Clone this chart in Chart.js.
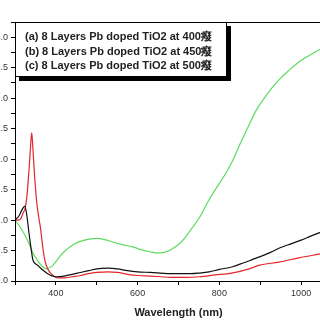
<!DOCTYPE html>
<html>
<head>
<meta charset="utf-8">
<script src="https://cdn.jsdelivr.net/npm/chart.js@4/dist/chart.umd.min.js"></script>
<style>
    html, body { margin: 0; padding: 0; background: #fff; }
    #wrap { position: relative; width: 320px; height: 320px; overflow: hidden; }
    #chart { position: absolute; left: -40px; top: 0; }
    #legend {
        position: absolute; left: 15px; top: 22px; width: 212px; height: 55px;
        border: 1px solid #000; background: #fff; box-shadow: 4px 4px 0 #000;
        font: bold 11px "Liberation Sans", Arial, sans-serif; color: #222;
        line-height: 14.5px; padding-top: 6px; box-sizing: border-box; padding-left: 9px;
        white-space: nowrap;
    }
</style>
</head>
<body>
<div id="wrap">
    <canvas id="chart" width="400" height="320"></canvas>
    <div id="legend"></div>
</div>
<script>
// series labels as printed in the legend
const seriesLabels = [
    '(a) 8 Layers Pb doped TiO2 at 400癈',
    '(b) 8 Layers Pb doped TiO2 at 450癈',
    '(c) 8 Layers Pb doped TiO2 at 500癈'
];

// (a) black
const wlA = [300, 310, 318, 324, 328, 334, 340, 344, 355, 368, 380, 393, 402, 420, 440, 460, 480, 500, 527, 550, 575, 600, 630, 656, 680, 700, 730, 751, 775, 800, 830, 860, 880, 900, 925, 950, 975, 1000, 1025, 1044, 1070, 1100];
const absA = [1.0, 1.07, 1.18, 1.23, 1.12, 0.8, 0.5, 0.34, 0.26, 0.18, 0.12, 0.08, 0.07, 0.08, 0.11, 0.14, 0.17, 0.2, 0.21, 0.2, 0.17, 0.15, 0.14, 0.13, 0.12, 0.12, 0.12, 0.13, 0.15, 0.19, 0.23, 0.3, 0.35, 0.4, 0.47, 0.55, 0.61, 0.67, 0.74, 0.79, 0.86, 0.93];

// (b) red
const wlB = [300, 308, 314, 320, 325, 330, 334, 337, 339, 341, 344, 348, 353, 358, 363, 368, 373, 380, 387, 395, 405, 420, 440, 460, 480, 500, 527, 550, 575, 600, 630, 656, 680, 720, 751, 790, 830, 873, 898, 946, 995, 1044, 1100];
const absB = [1.0, 1.0, 1.02, 1.12, 1.2, 1.45, 1.8, 2.1, 2.3, 2.43, 2.15, 1.72, 1.3, 1.05, 0.84, 0.55, 0.34, 0.2, 0.13, 0.08, 0.05, 0.05, 0.07, 0.09, 0.12, 0.14, 0.15, 0.14, 0.11, 0.09, 0.08, 0.07, 0.06, 0.06, 0.07, 0.1, 0.13, 0.2, 0.26, 0.31, 0.38, 0.44, 0.51];

// (c) green
const wlC = [300, 312, 322, 332, 344, 356, 368, 378, 393, 405, 417, 441, 460, 476, 500, 520, 539, 560, 588, 610, 630, 650, 665, 680, 700, 711, 730, 752, 772, 794, 815, 833, 850, 867, 890, 910, 930, 950, 971, 990, 1012, 1030, 1044, 1070, 1100];
const absC = [1.0, 0.89, 0.78, 0.65, 0.46, 0.33, 0.23, 0.2, 0.26, 0.36, 0.46, 0.59, 0.65, 0.68, 0.7, 0.68, 0.64, 0.6, 0.56, 0.51, 0.48, 0.46, 0.47, 0.51, 0.6, 0.67, 0.84, 1.05, 1.3, 1.54, 1.76, 1.98, 2.24, 2.48, 2.8, 3.0, 3.18, 3.33, 3.46, 3.57, 3.67, 3.74, 3.79, 3.83, 3.85];

const seriesColors = ['#111111', '#e4252b', '#5ddc5d'];

const toPoints = (xs, ys) => xs.map((x, i) => ({ x, y: ys[i] }));

document.getElementById('legend').innerHTML = seriesLabels.map((l) => `<div>${l}</div>`).join('');

const framePlugin = {
    id: 'frame',
    afterDraw(chart) {
        const { ctx, chartArea: a } = chart;
        ctx.save();
        ctx.strokeStyle = '#000';
        ctx.lineWidth = 1;
        ctx.strokeRect(Math.round(a.left) + 0.5, Math.round(a.top) + 0.5, Math.round(a.right - a.left), Math.round(a.bottom - a.top));
        ctx.restore();
    }
};

new Chart(document.getElementById('chart').getContext('2d'), {
    type: 'line',
    data: {
        datasets: [
            { label: seriesLabels[0], data: toPoints(wlA, absA), borderColor: seriesColors[0] },
            { label: seriesLabels[1], data: toPoints(wlB, absB), borderColor: seriesColors[1] },
            { label: seriesLabels[2], data: toPoints(wlC, absC), borderColor: seriesColors[2] }
        ]
    },
    options: {
        responsive: false,
        animation: false,
        layout: { padding: { left: 0, right: 18, top: 22, bottom: 0 } },
        elements: {
            point: { radius: 0 },
            line: { borderWidth: 1.2, cubicInterpolationMode: 'monotone', fill: false }
        },
        plugins: { legend: { display: false }, tooltip: { enabled: false } },
        scales: {
            x: {
                type: 'linear', min: 300, max: 1100,
                afterFit: (s) => { s.height = 39; },
                grid: { drawOnChartArea: false, drawTicks: true, tickLength: 4, color: '#000' },
                border: { display: true, color: '#000' },
                ticks: {
                    stepSize: 100, autoSkip: false, maxRotation: 0, padding: 3,
                    color: '#333', font: { family: 'Liberation Sans, Arial', size: 9 },
                    callback: (v) => (v % 200 === 0 ? String(v) : '')
                },
                title: {
                    display: true, text: 'Wavelength (nm)', color: '#222',
                    font: { family: 'Liberation Sans, Arial', size: 11, weight: 'bold' },
                    padding: { top: 0, bottom: 0 }
                }
            },
            y: {
                min: 0, max: 4.25,
                afterFit: (s) => { s.width = 55; },
                grid: { drawOnChartArea: false, drawTicks: true, tickLength: 4, color: '#000' },
                border: { display: true, color: '#000' },
                ticks: {
                    stepSize: 0.25, autoSkip: false, padding: 3,
                    color: '#333', font: { family: 'Liberation Sans, Arial', size: 9 },
                    callback: (v) => (Math.abs(v * 2 - Math.round(v * 2)) < 1e-6 ? v.toFixed(1) : '')
                }
            }
        }
    },
    plugins: [framePlugin]
});
</script>
</body>
</html>
